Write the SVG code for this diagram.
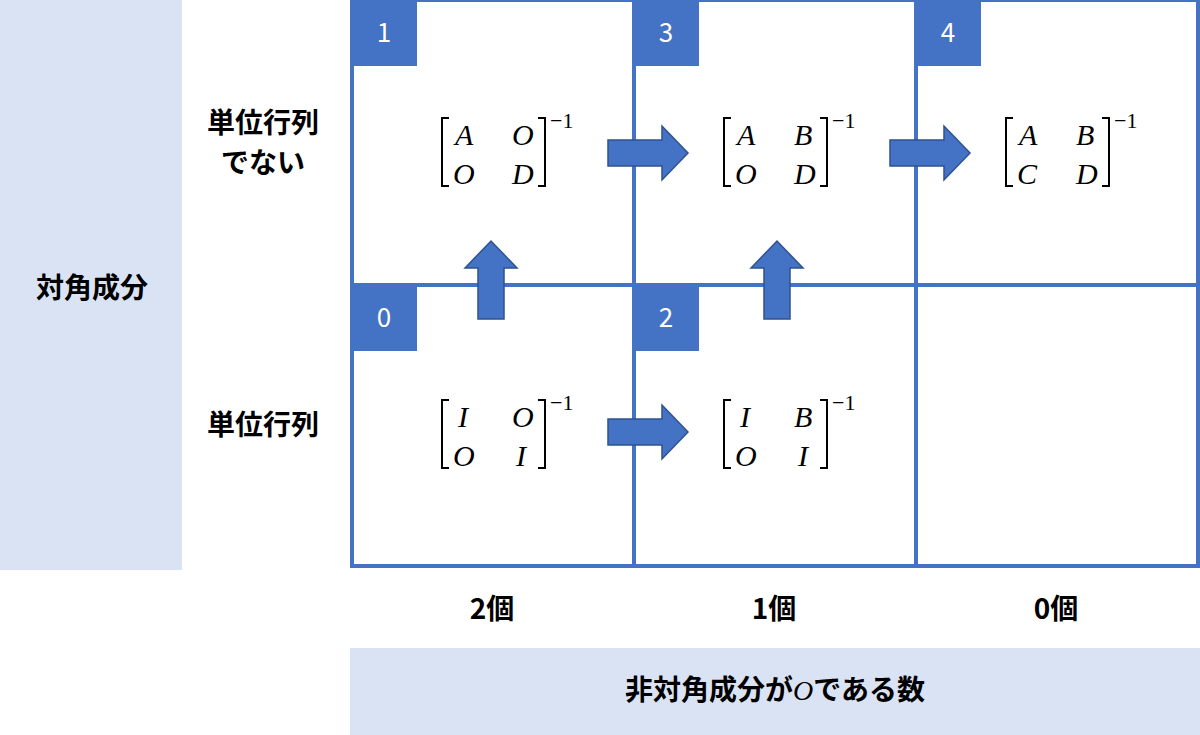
<svg xmlns="http://www.w3.org/2000/svg" width="1200" height="735" viewBox="0 0 1200 735">
<style>
.bg{fill:#DAE3F3}
.grid{fill:none;stroke:#4472C4;stroke-width:4}
.badge{fill:#4472C4}
.bn{font-family:"Noto Sans CJK JP","Noto Sans",sans-serif;font-size:26px;fill:#fff;text-anchor:middle}
.lab{font-family:"Noto Sans CJK JP",sans-serif;font-weight:bold;font-size:28px;fill:#000;text-anchor:middle}
.m{font-family:"Liberation Serif",serif;font-style:italic;font-size:30px;fill:#000}
.sup{font-family:"Liberation Serif",serif;font-size:22px;fill:#000}
.br{fill:none;stroke:#000;stroke-width:2}
.arr{fill:#4472C4;stroke:#2F528F;stroke-width:1.5}
</style>
<rect class="bg" x="0" y="0" width="182" height="570"/>
<rect class="bg" x="350" y="648" width="850" height="87"/>
<g id="grid">
<rect class="grid" x="352" y="0" width="846" height="566"/>
<line class="grid" x1="634" y1="0" x2="634" y2="566"/>
<line class="grid" x1="916" y1="0" x2="916" y2="566"/>
<line class="grid" x1="352" y1="285" x2="1198" y2="285"/>
</g>
<g id="badges">
<rect class="badge" x="352" y="0" width="65" height="66"/><text class="bn" x="384" y="42">1</text>
<rect class="badge" x="634" y="0" width="65" height="66"/><text class="bn" x="666" y="42">3</text>
<rect class="badge" x="916" y="0" width="65" height="66"/><text class="bn" x="948" y="42">4</text>
<rect class="badge" x="352" y="285" width="65" height="66"/><text class="bn" x="384" y="327">0</text>
<rect class="badge" x="634" y="285" width="65" height="66"/><text class="bn" x="666" y="327">2</text>
</g>
<g id="labels">
<text class="lab" x="92" y="298">対角成分</text>
<text class="lab" x="263" y="133">単位行列</text>
<text class="lab" x="263" y="173">でない</text>
<text class="lab" x="263" y="435">単位行列</text>
<text class="lab" x="492" y="619">2個</text>
<text class="lab" x="774" y="619">1個</text>
<text class="lab" x="1056" y="619">0個</text>
<text class="lab" x="775" y="700">非対角成分が<tspan font-family="Liberation Serif" font-style="italic" font-weight="normal">O</tspan>である数</text>
</g>
<g id="m1">
<path class="br" d="M449,118 h-7 v68 h7 M538,118 h7 v68 h-7"/>
<text class="m" x="455" y="145">A</text><text class="m" x="512" y="145">O</text>
<text class="m" x="453" y="184">O</text><text class="m" x="512" y="184">D</text>
<text class="sup" x="550" y="128">−1</text>
</g>
<g id="m3">
<path class="br" d="M731,118 h-7 v68 h7 M820,118 h7 v68 h-7"/>
<text class="m" x="737" y="145">A</text><text class="m" x="794" y="145">B</text>
<text class="m" x="735" y="184">O</text><text class="m" x="794" y="184">D</text>
<text class="sup" x="832" y="128">−1</text>
</g>
<g id="m4">
<path class="br" d="M1013,118 h-7 v68 h7 M1102,118 h7 v68 h-7"/>
<text class="m" x="1019" y="145">A</text><text class="m" x="1076" y="145">B</text>
<text class="m" x="1017" y="184">C</text><text class="m" x="1076" y="184">D</text>
<text class="sup" x="1114" y="128">−1</text>
</g>
<g id="m0">
<path class="br" d="M449,400 h-7 v68 h7 M538,400 h7 v68 h-7"/>
<text class="m" x="458" y="427">I</text><text class="m" x="512" y="427">O</text>
<text class="m" x="453" y="466">O</text><text class="m" x="516" y="466">I</text>
<text class="sup" x="550" y="410">−1</text>
</g>
<g id="m2">
<path class="br" d="M731,400 h-7 v68 h7 M820,400 h7 v68 h-7"/>
<text class="m" x="740" y="427">I</text><text class="m" x="794" y="427">B</text>
<text class="m" x="735" y="466">O</text><text class="m" x="798" y="466">I</text>
<text class="sup" x="832" y="410">−1</text>
</g>
<g id="connectors">
<path class="arr" d="M608,140 h54 v-14 l26,27 l-26,27 v-14 h-54 z"/>
<path class="arr" d="M890,140 h54 v-14 l26,27 l-26,27 v-14 h-54 z"/>
<path class="arr" d="M608,419 h54 v-14 l26,27 l-26,27 v-14 h-54 z"/>
<path class="arr" d="M478,319 v-51 h-13 l26,-27 l26,27 h-13 v51 z"/>
<path class="arr" d="M764,319 v-51 h-13 l26,-27 l26,27 h-13 v51 z"/>
</g>
</svg>
